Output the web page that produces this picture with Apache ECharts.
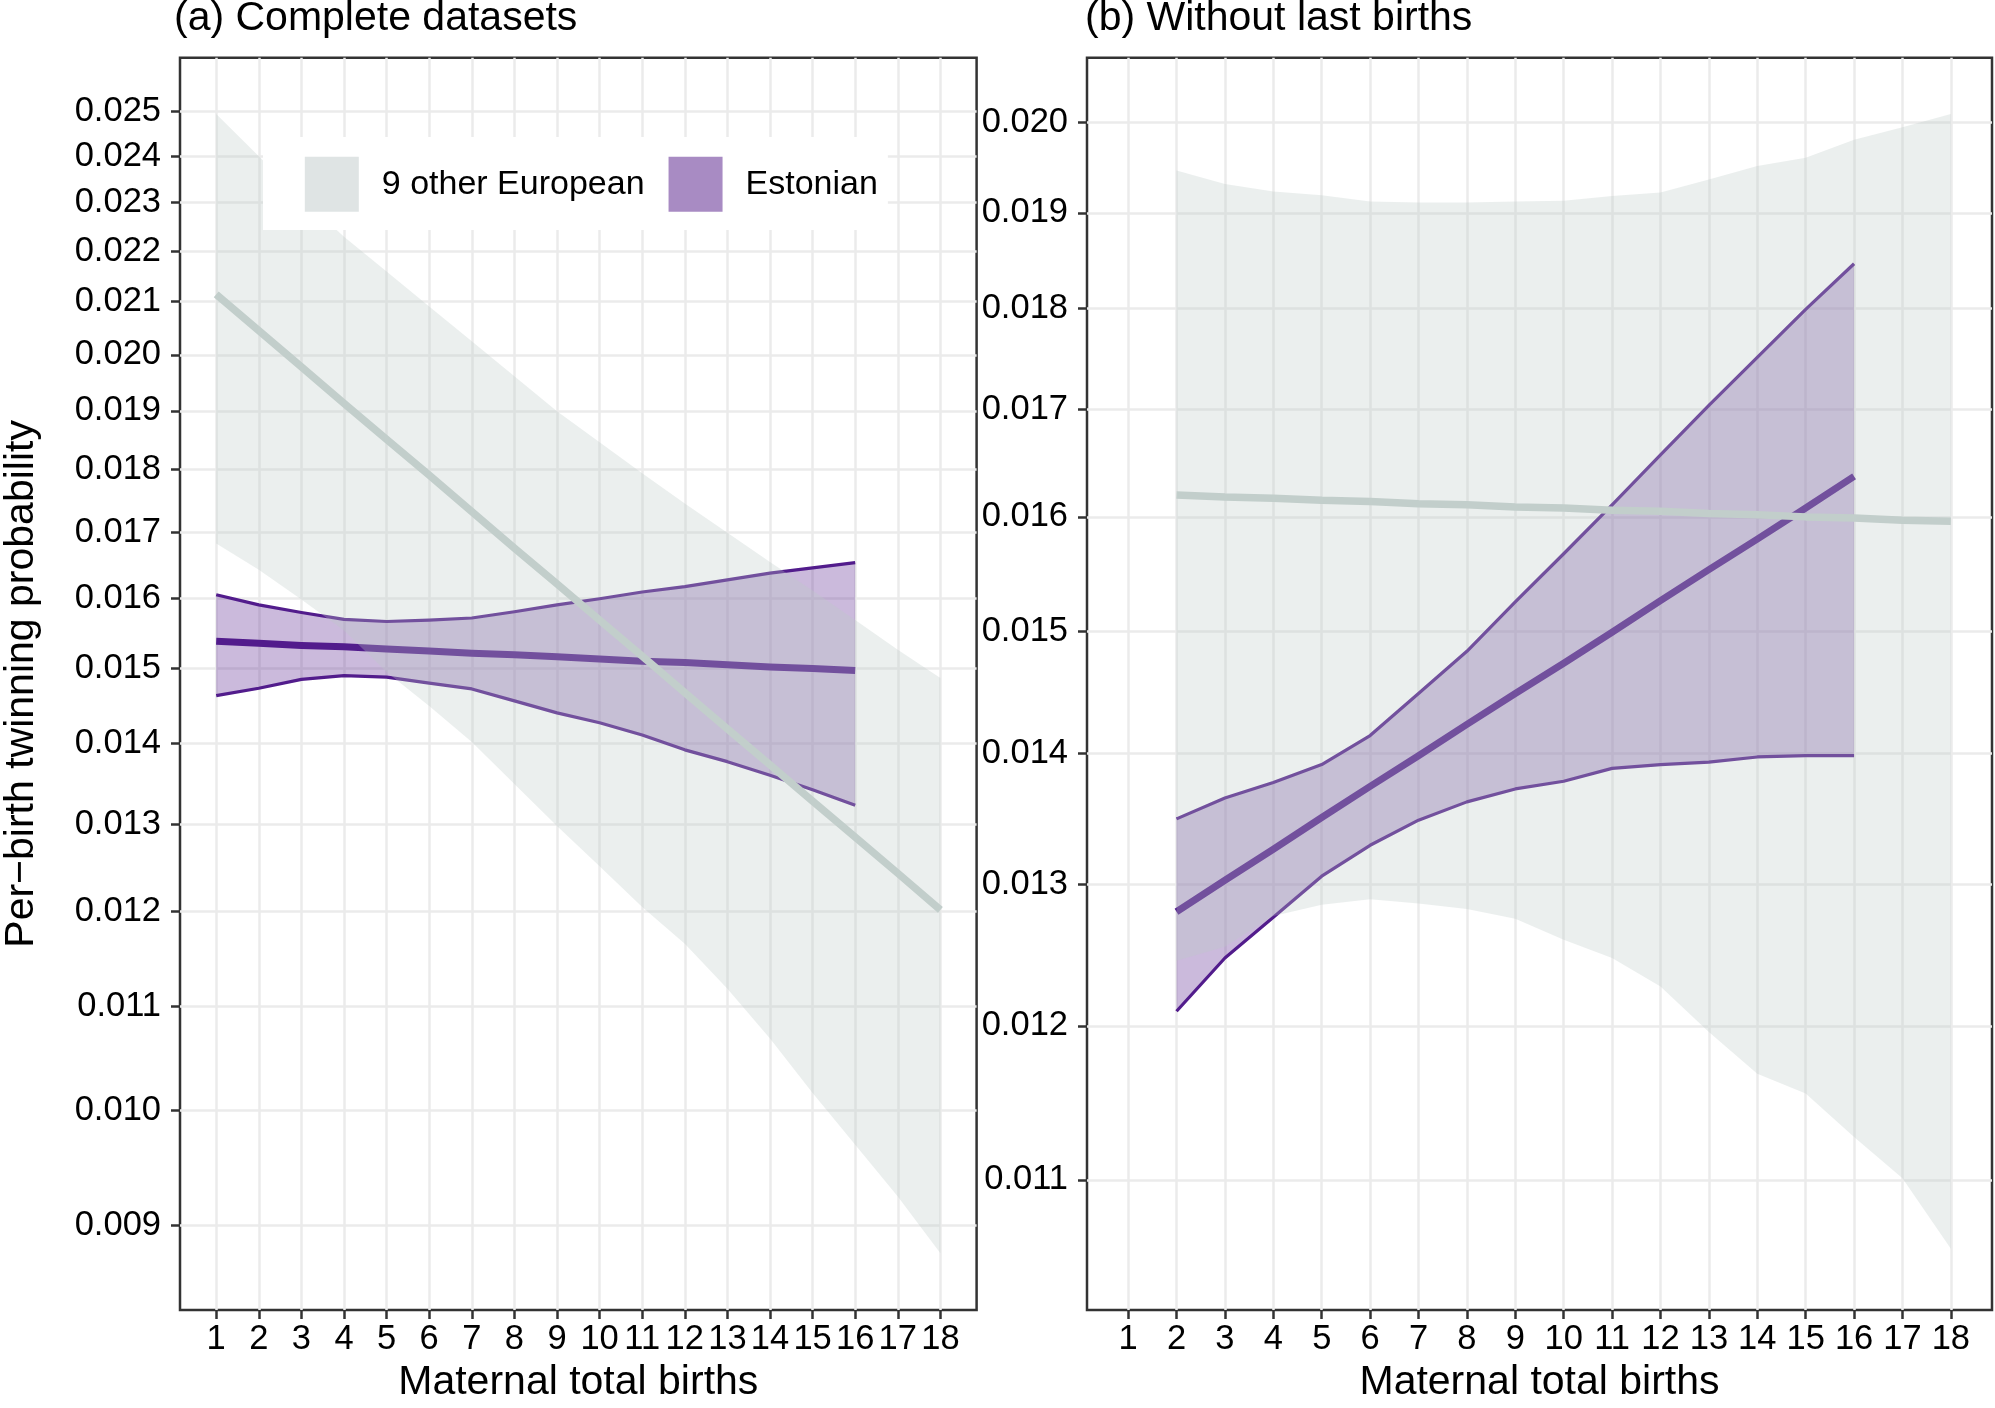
<!DOCTYPE html>
<html><head><meta charset="utf-8">
<script src="https://cdn.jsdelivr.net/npm/echarts@6/dist/echarts.min.js"></script>
<style>html,body{margin:0;padding:0;background:#fff;overflow:hidden}#c{width:1995px;height:1408px}</style>
</head><body><div id="c"></div>
<script>
// ---------- data ----------
const xTicks = [1,2,3,4,5,6,7,8,9,10,11,12,13,14,15,16,17,18];
const aYTicks = [0.009,0.010,0.011,0.012,0.013,0.014,0.015,0.016,0.017,0.018,0.019,0.020,0.021,0.022,0.023,0.024,0.025];
const bYTicks = [0.011,0.012,0.013,0.014,0.015,0.016,0.017,0.018,0.019,0.020];

// (a) Complete datasets — 9 other European
const aGreyX   = [1,2,3,4,5,6,7,8,9,10,11,12,13,14,15,16,17,18];
const aGreyFit = [0.02114,0.02045,0.01978,0.01913,0.01851,0.01791,0.01732,0.01675,0.01621,0.01568,0.01517,0.01467,0.01419,0.01373,0.01328,0.01285,0.01243,0.01202];
const aGreyHi  = [0.02495,0.02400,0.02311,0.02229,0.02159,0.02091,0.02025,0.01961,0.01899,0.01846,0.01794,0.01745,0.01699,0.01654,0.01611,0.01568,0.01526,0.01487];
const aGreyLo  = [0.01682,0.01642,0.01598,0.01553,0.01495,0.01449,0.01402,0.01349,0.01298,0.01251,0.01205,0.01165,0.01118,0.01068,0.01016,0.00969,0.00924,0.00877];
// (a) Complete datasets — Estonian
const aEstX    = [1,2,3,4,5,6,7,8,9,10,11,12,13,14,15,16];
const aEstFit  = [0.01538,0.01535,0.01532,0.01530,0.01527,0.01524,0.01521,0.01519,0.01516,0.01513,0.01510,0.01508,0.01505,0.01502,0.01500,0.01497];
const aEstHi   = [0.01605,0.01590,0.01579,0.01569,0.01566,0.01568,0.01571,0.01580,0.01590,0.01599,0.01609,0.01617,0.01627,0.01637,0.01645,0.01653];
const aEstLo   = [0.01463,0.01473,0.01485,0.01490,0.01488,0.01480,0.01472,0.01456,0.01440,0.01427,0.01411,0.01392,0.01377,0.01360,0.01342,0.01323];

// (b) Without last births — 9 other European
const bGreyX   = [2,3,4,5,6,7,8,9,10,11,12,13,14,15,16,17,18];
const bGreyFit = [0.01620,0.01618,0.01617,0.01615,0.01614,0.01612,0.01611,0.01609,0.01608,0.01606,0.01605,0.01603,0.01602,0.01600,0.01599,0.01597,0.01596];
const bGreyHi  = [0.01946,0.01931,0.01923,0.01919,0.01912,0.01911,0.01911,0.01912,0.01913,0.01918,0.01922,0.01936,0.01951,0.01960,0.01980,0.01994,0.02009];
const bGreyLo  = [0.01245,0.01255,0.01277,0.01285,0.01289,0.01286,0.01282,0.01275,0.01260,0.01247,0.01227,0.01196,0.01168,0.01155,0.01127,0.01101,0.01058];
// (b) Without last births — Estonian
const bEstX    = [2,3,4,5,6,7,8,9,10,11,12,13,14,15,16];
const bEstFit  = [0.01280,0.01303,0.01326,0.01350,0.01374,0.01398,0.01423,0.01448,0.01473,0.01499,0.01526,0.01553,0.01580,0.01608,0.01637];
const bEstHi   = [0.01349,0.01365,0.01377,0.01391,0.01414,0.01448,0.01483,0.01525,0.01567,0.01611,0.01657,0.01704,0.01751,0.01799,0.01846];
const bEstLo   = [0.01210,0.01247,0.01276,0.01306,0.01329,0.01348,0.01362,0.01372,0.01378,0.01388,0.01391,0.01393,0.01397,0.01398,0.01398];

// ---------- styling ----------
const FONT = 'Liberation Sans, Arial, Helvetica, sans-serif';
const PURPLE = '#521C8C';
const PURPLE_FILL = 'rgba(82,28,140,0.3)';
const GREY_FILL = 'rgba(190,202,200,0.3)';
const GREY_LINE = '#C2CECB';
const NAME_GREY = '9 other European';
const NAME_EST = 'Estonian';
const TICK_FS = 34.5;

function ribbon(name, xs, lo, hi, fill, gi, z) {
  return {
    type: 'custom', name: name, xAxisIndex: gi, yAxisIndex: gi, z: z,
    coordinateSystem: 'cartesian2d', silent: true, animation: false,
    data: xs.map((x, i) => [x, lo[i], hi[i]]),
    encode: { x: 0, y: [1, 2] },
    itemStyle: { color: fill },
    renderItem: function (params, api) {
      if (params.dataIndex !== 0) return null;
      const pts = [];
      for (let i = 0; i < xs.length; i++) pts.push(api.coord([xs[i], hi[i]]));
      for (let i = xs.length - 1; i >= 0; i--) pts.push(api.coord([xs[i], lo[i]]));
      return { type: 'polygon', shape: { points: pts }, style: { fill: fill, stroke: null } };
    }
  };
}
function line(id, xs, ys, color, width, gi, z) {
  return {
    type: 'line', name: id, xAxisIndex: gi, yAxisIndex: gi, z: z,
    data: xs.map((x, i) => [x, ys[i]]),
    showSymbol: false, symbol: 'none', silent: true, animation: false,
    lineStyle: { color: color, width: width, cap: 'butt', join: 'round' }
  };
}

const tickStyle = { color: '#333333', width: 2.5 };
function xAxis(gi) {
  return {
    type: 'value', gridIndex: gi, min: 0.15, max: 18.85,
    name: 'Maternal total births', nameLocation: 'middle', nameGap: 32,
    nameTextStyle: { fontSize: 41, color: '#000', fontFamily: FONT },
    axisLine: { show: false },
    axisTick: { show: true, length: 9, lineStyle: tickStyle, customValues: xTicks },
    axisLabel: { customValues: xTicks, formatter: v => String(v), fontSize: TICK_FS, color: '#000', margin: 12, fontFamily: FONT },
    splitLine: { show: true, lineStyle: { color: '#EBEBEB', width: 2.5 } }
  };
}
function yAxis(gi, min, max, ticks, withName) {
  const ax = {
    type: 'log', logBase: 10, gridIndex: gi, min: min, max: max,
    axisLine: { show: false },
    axisTick: { show: true, length: 9, lineStyle: tickStyle, customValues: ticks },
    axisLabel: { customValues: ticks, formatter: v => Number(v).toFixed(3), fontSize: TICK_FS, color: '#000', margin: 19, fontFamily: FONT },
    splitLine: { show: true, lineStyle: { color: '#EBEBEB', width: 2.5 } }
  };
  if (withName) {
    ax.name = 'Per\u2212birth twinning probability';
    ax.nameLocation = 'middle';
    ax.nameGap = 138;
    ax.nameRotate = 90;
    ax.nameTextStyle = { fontSize: 41, color: '#000', fontFamily: FONT };
  }
  return ax;
}

const option = {
  animation: false,
  backgroundColor: '#fff',
  textStyle: { fontFamily: FONT },
  title: [
    { text: '(a) Complete datasets', left: 174, top: -2, padding: 0,
      textStyle: { fontSize: 41, fontWeight: 'normal', color: '#000', fontFamily: FONT } },
    { text: '(b) Without last births', left: 1085, top: -2, padding: 0,
      textStyle: { fontSize: 41, fontWeight: 'normal', color: '#000', fontFamily: FONT } }
  ],
  grid: [
    { left: 174.4, top: 57.7, width: 802.2, height: 1272.3, show: true, borderColor: '#333333', borderWidth: 2.5, backgroundColor: 'transparent' },
    { left: 1087, top: 57.7, width: 905, height: 1272.3, show: true, borderColor: '#333333', borderWidth: 2.5, backgroundColor: 'transparent' }
  ],
  legend: {
    left: 263, top: 137, orient: 'horizontal', z: 20,
    backgroundColor: '#ffffff', borderWidth: 0,
    padding: [19.7, 10, 18.3, 41.8],
    itemWidth: 54, itemHeight: 55, itemGap: 24, icon: 'rect',
    selectedMode: false,
    textStyle: { fontSize: 34, color: '#000', fontFamily: FONT, padding: [0, 0, 0, 18] },
    data: [
      { name: NAME_GREY, icon: 'rect', itemStyle: { color: '#DFE4E4', opacity: 1, borderWidth: 0 } },
      { name: NAME_EST, icon: 'rect', itemStyle: { color: '#A88BC3', opacity: 1, borderWidth: 0 } }
    ]
  },
  xAxis: [xAxis(0), xAxis(1)],
  yAxis: [
    yAxis(0, 0.008325, 0.02627, aYTicks, true),
    yAxis(1, 0.01022, 0.02074, bYTicks, false)
  ],
  series: [
    // panel a
    ribbon(NAME_EST, aEstX, aEstLo, aEstHi, PURPLE_FILL, 0, 2),
    line('aEstHi', aEstX, aEstHi, PURPLE, 3.2, 0, 3),
    line('aEstLo', aEstX, aEstLo, PURPLE, 3.2, 0, 3),
    line('aEstFit', aEstX, aEstFit, PURPLE, 7, 0, 3),
    ribbon(NAME_GREY, aGreyX, aGreyLo, aGreyHi, GREY_FILL, 0, 4),
    line('aGreyFit', aGreyX, aGreyFit, GREY_LINE, 7.5, 0, 5),
    // panel b
    ribbon(NAME_EST, bEstX, bEstLo, bEstHi, PURPLE_FILL, 1, 2),
    line('bEstHi', bEstX, bEstHi, PURPLE, 3.2, 1, 3),
    line('bEstLo', bEstX, bEstLo, PURPLE, 3.2, 1, 3),
    line('bEstFit', bEstX, bEstFit, PURPLE, 7, 1, 3),
    ribbon(NAME_GREY, bGreyX, bGreyLo, bGreyHi, GREY_FILL, 1, 4),
    line('bGreyFit', bGreyX, bGreyFit, GREY_LINE, 7.5, 1, 5)
  ]
};
const chart = echarts.init(document.getElementById('c'), null, { renderer: 'canvas' });
chart.setOption(option);
</script>
</body></html>
